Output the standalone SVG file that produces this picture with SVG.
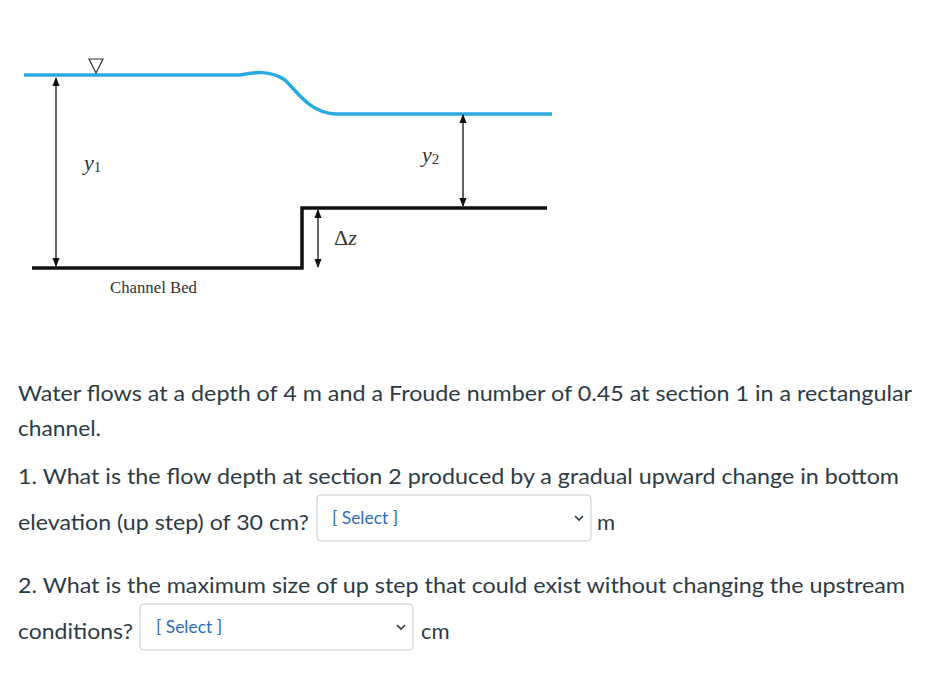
<svg xmlns="http://www.w3.org/2000/svg" width="952" height="687" viewBox="0 0 952 687">
<style>
.t{font-family:Lato,"Open Sans",sans-serif;font-size:22px;fill:#2d3b45}
.s{font-family:Lato,sans-serif;font-size:17px;fill:#2d6bbd}
.m{font-family:"Liberation Serif",serif;font-style:italic;font-size:22px;fill:#333}
.box{fill:#fff;stroke:#c7cdd1;stroke-width:1}
.dim{stroke:#111;stroke-width:1.3;marker-start:url(#a);marker-end:url(#a)}
</style>
<defs><marker id="a" viewBox="0 0 10 10" refX="9" refY="5" markerWidth="7" markerHeight="7" orient="auto-start-reverse"><path d="M0,1L10,5L0,9z" fill="#111"/></marker></defs>
<rect width="952" height="687" fill="#fff"/>
<g id="water"><path d="M24,75H240C255,72 270,70 285,80C300,95 310,112 335,114H552" fill="none" stroke="#29abe2" stroke-width="3.5"/>
<path d="M89,59H103L96,73Z" fill="none" stroke="#333" stroke-width="1.2"/></g>
<g id="bed"><path d="M32,268H302V208H547" fill="none" stroke="#111" stroke-width="3.5"/>
<text x="110" y="293" font-family="Liberation Serif,serif" font-size="16" fill="#333" textLength="87" lengthAdjust="spacingAndGlyphs">Channel Bed</text></g>
<g id="connectors">
<line class="dim" x1="56" y1="78" x2="56" y2="266"/>
<line class="dim" x1="463" y1="115" x2="463" y2="206"/>
<line class="dim" x1="318" y1="210" x2="318" y2="267"/>
</g>
<g id="labels">
<text class="m" x="84" y="170">y<tspan font-style="normal" font-size="15" dy="2">1</tspan></text>
<text class="m" x="422" y="162">y<tspan font-style="normal" font-size="15" dy="2">2</tspan></text>
<text class="m" x="334" y="245"><tspan font-style="normal">Δ</tspan>z</text>
</g>
<g id="question">
<text class="t" x="18" y="401" textLength="894" lengthAdjust="spacingAndGlyphs">Water flows at a depth of 4 m and a Froude number of 0.45 at section 1 in a rectangular</text>
<text class="t" x="18" y="436" textLength="83" lengthAdjust="spacingAndGlyphs">channel.</text>
<text class="t" x="18" y="484" textLength="881" lengthAdjust="spacingAndGlyphs">1. What is the flow depth at section 2 produced by a gradual upward change in bottom</text>
<text class="t" x="18" y="530" textLength="291" lengthAdjust="spacingAndGlyphs">elevation (up step) of 30 cm?</text>
<rect class="box" x="317" y="495" width="274" height="46" rx="4"/>
<text class="s" x="332" y="524" textLength="66" lengthAdjust="spacingAndGlyphs">[ Select ]</text>
<path d="M575,516l4,4l4,-4" fill="none" stroke="#2d3b45" stroke-width="1.6"/>
<text class="t" x="597" y="530">m</text>
<text class="t" x="18" y="593" textLength="887" lengthAdjust="spacingAndGlyphs">2. What is the maximum size of up step that could exist without changing the upstream</text>
<text class="t" x="18" y="639" textLength="115" lengthAdjust="spacingAndGlyphs">conditions?</text>
<rect class="box" x="140" y="604" width="273" height="46" rx="4"/>
<text class="s" x="156" y="633" textLength="66" lengthAdjust="spacingAndGlyphs">[ Select ]</text>
<path d="M397,625l4,4l4,-4" fill="none" stroke="#2d3b45" stroke-width="1.6"/>
<text class="t" x="421" y="639">cm</text>
</g>
</svg>
